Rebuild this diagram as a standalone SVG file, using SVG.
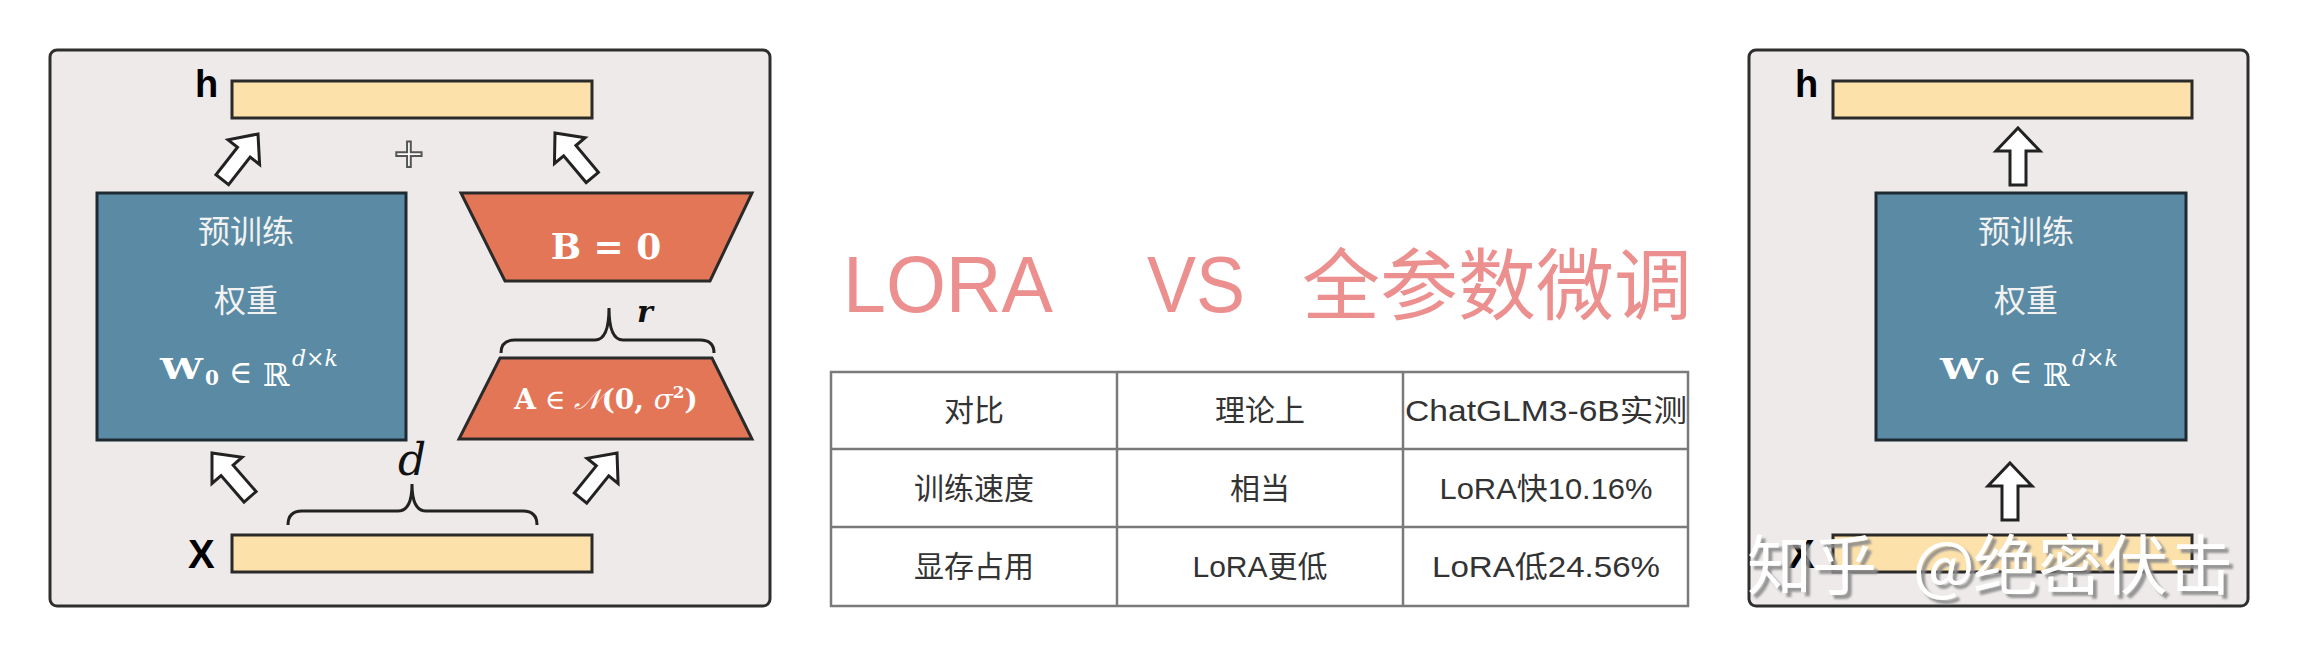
<svg xmlns="http://www.w3.org/2000/svg" width="2298" height="656" viewBox="0 0 2298 656">
<style>
.panel{fill:#EDEAE9;stroke:#2E2E2E;stroke-width:3}
.bar{fill:#FDE1AA;stroke:#2A2A2A;stroke-width:3}
.wbox{fill:#5A8AA4;stroke:#1E2A32;stroke-width:3}
.trap{fill:#E47658;stroke:#2A2A2A;stroke-width:3}
.arrow{fill:#FFFFFF;stroke:#222;stroke-width:3;stroke-linejoin:miter}
.brace{fill:none;stroke:#222;stroke-width:3}
.lbl{font-family:"Liberation Sans",Arial,sans-serif;font-weight:bold;fill:#000}
.cn{font-family:"Noto Sans CJK SC",sans-serif;fill:#F2F2F2;text-anchor:middle}
.math{font-family:"DejaVu Serif","Liberation Serif",serif;fill:#FFFFFF}
.title{font-family:"Liberation Sans","Noto Sans CJK SC",sans-serif;fill:#EC908F}
.cell{font-family:"Liberation Sans","Noto Sans CJK SC",sans-serif;font-size:30px;fill:#333;text-anchor:middle}
.grid{stroke:#7A7A7A;stroke-width:2.5;fill:none}
.wm{font-family:"Noto Sans CJK SC",sans-serif;font-size:65px;fill:#FFFFFF}
</style>
<defs>
<path id="blk" d="M0,0 L20,23 L8,23 L8,58 L-8,58 L-8,23 L-20,23 Z"/>
<path id="blkv" d="M0,0 L22,23 L8,23 L8,57 L-8,57 L-8,23 L-22,23 Z"/>
<filter id="shadow" x="-5%" y="-20%" width="115%" height="150%">
<feDropShadow dx="4" dy="4" stdDeviation="1.2" flood-color="#8C8C8C" flood-opacity="0.9"/>
</filter>
</defs>
<rect width="2298" height="656" fill="#FFFFFF"/>

<!-- PANELS -->
<g id="panel-left"><rect class="panel" x="50" y="50" width="720" height="556" rx="7"/></g>
<g id="panel-right"><rect class="panel" x="1749" y="50" width="499" height="556" rx="7"/></g>

<!-- LEFT PANEL NODES -->
<g id="h-left">
<text class="lbl" x="195" y="97" font-size="38">h</text>
<rect class="bar" x="232" y="81" width="360" height="37"/>
</g>
<g id="x-left">
<text class="lbl" x="188" y="568" font-size="40">X</text>
<rect class="bar" x="232" y="535" width="360" height="37"/>
</g>
<g id="w0-left">
<rect class="wbox" x="97" y="193" width="309" height="247"/>
<text class="cn" x="246" y="243" font-size="32">预训练</text>
<text class="cn" x="246" y="312" font-size="32">权重</text>
<g id="w0-formula-left">
<text class="math" x="160" y="379" font-size="28" font-weight="bold" textLength="43" lengthAdjust="spacingAndGlyphs">W</text>
<text class="math" x="205" y="385" font-size="20" font-weight="bold">0</text>
<text class="math" x="229" y="383" font-size="32">∈</text>
<text class="math" x="263" y="386" font-size="32">ℝ</text>
<text class="math" x="292" y="366" font-size="22" font-style="italic">d×k</text>
</g>
</g>
<g id="B-node">
<polygon class="trap" points="461,193 752,193 710,281 505,281"/>
<text class="math" x="606" y="259" font-size="36" font-weight="bold" text-anchor="middle">B = 0</text>
</g>
<g id="A-node">
<polygon class="trap" points="500,358 712,358 752,439 459,439"/>
<text class="math" x="606" y="409" font-size="28" text-anchor="middle"><tspan font-weight="bold">A</tspan> ∈ <tspan font-style="italic">𝒩</tspan><tspan font-weight="bold">(0, </tspan><tspan font-style="italic">σ</tspan><tspan font-size="17" font-weight="bold" dy="-11">2</tspan><tspan font-weight="bold" dy="11">)</tspan></text>
</g>
<g id="plus">
<text x="409" y="172" font-family="Liberation Sans,Arial,sans-serif" font-size="52" text-anchor="middle" fill="#FFFFFF" stroke="#555" stroke-width="2">+</text>
</g>

<!-- RIGHT PANEL NODES -->
<g id="h-right">
<text class="lbl" x="1795" y="97" font-size="38">h</text>
<rect class="bar" x="1833" y="81" width="359" height="37"/>
</g>
<g id="w0-right">
<rect class="wbox" x="1876" y="193" width="310" height="247"/>
<text class="cn" x="2026" y="243" font-size="32">预训练</text>
<text class="cn" x="2026" y="312" font-size="32">权重</text>
<g transform="translate(1780,0)">
<text class="math" x="160" y="379" font-size="28" font-weight="bold" textLength="43" lengthAdjust="spacingAndGlyphs">W</text>
<text class="math" x="205" y="385" font-size="20" font-weight="bold">0</text>
<text class="math" x="229" y="383" font-size="32">∈</text>
<text class="math" x="263" y="386" font-size="32">ℝ</text>
<text class="math" x="292" y="366" font-size="22" font-style="italic">d×k</text>
</g>
</g>
<g id="x-right">
<rect class="bar" x="1833" y="535" width="359" height="37"/>
<text class="lbl" x="1788" y="568" font-size="40">X</text>
</g>

<!-- CONNECTORS -->
<g id="connectors">
<use href="#blk" class="arrow" transform="translate(258,134) rotate(38)"/>
<use href="#blk" class="arrow" transform="translate(555,133) rotate(-40)"/>
<use href="#blk" class="arrow" transform="translate(212,453) rotate(-41)"/>
<use href="#blk" class="arrow" transform="translate(617,453) rotate(39)"/>
<use href="#blkv" class="arrow" transform="translate(2018,128)"/>
<use href="#blkv" class="arrow" transform="translate(2010,463)"/>
<path class="brace" d="M288,525 Q288,511 302,511 L398,511 Q412,511 412,484 Q412,511 426,511 L523,511 Q537,511 537,525"/>
<path class="brace" d="M501,353 Q501,340 515,340 L595,340 Q609,340 609,308 Q609,340 623,340 L700,340 Q714,340 714,353"/>
<text x="412" y="475" font-family="DejaVu Serif,Liberation Serif,serif" font-style="italic" font-size="44" fill="#111" text-anchor="middle">d</text>
<text x="645" y="322" font-family="DejaVu Serif,Liberation Serif,serif" font-style="italic" font-weight="bold" font-size="30" fill="#111" text-anchor="middle">r</text>
</g>

<!-- TITLE -->
<g id="title">
<text class="title" x="843" y="312" font-size="80" textLength="210" lengthAdjust="spacingAndGlyphs">LORA</text>
<text class="title" x="1147" y="312" font-size="80" textLength="98" lengthAdjust="spacingAndGlyphs">VS</text>
<text class="title" x="1302" y="314" font-size="78" textLength="390" lengthAdjust="spacingAndGlyphs">全参数微调</text>
</g>

<!-- TABLE -->
<g id="table">
<rect class="grid" x="831" y="372" width="857" height="234"/>
<line class="grid" x1="1117" y1="372" x2="1117" y2="606"/>
<line class="grid" x1="1403" y1="372" x2="1403" y2="606"/>
<line class="grid" x1="831" y1="449" x2="1688" y2="449"/>
<line class="grid" x1="831" y1="527" x2="1688" y2="527"/>
<text class="cell" x="974" y="421">对比</text>
<text class="cell" x="1260" y="421">理论上</text>
<text class="cell" x="1546" y="421" textLength="282" lengthAdjust="spacingAndGlyphs">ChatGLM3-6B实测</text>
<text class="cell" x="974" y="499">训练速度</text>
<text class="cell" x="1260" y="499">相当</text>
<text class="cell" x="1546" y="499" textLength="213" lengthAdjust="spacingAndGlyphs">LoRA快10.16%</text>
<text class="cell" x="974" y="577">显存占用</text>
<text class="cell" x="1260" y="577">LoRA更低</text>
<text class="cell" x="1546" y="577" textLength="228" lengthAdjust="spacingAndGlyphs">LoRA低24.56%</text>
</g>

<!-- WATERMARK -->
<g id="watermark" filter="url(#shadow)">
<text class="wm" x="1747" y="589">知乎</text><text class="wm" x="1913" y="589">@</text><text class="wm" x="1973" y="589">绝密伏击</text>
</g>
</svg>
